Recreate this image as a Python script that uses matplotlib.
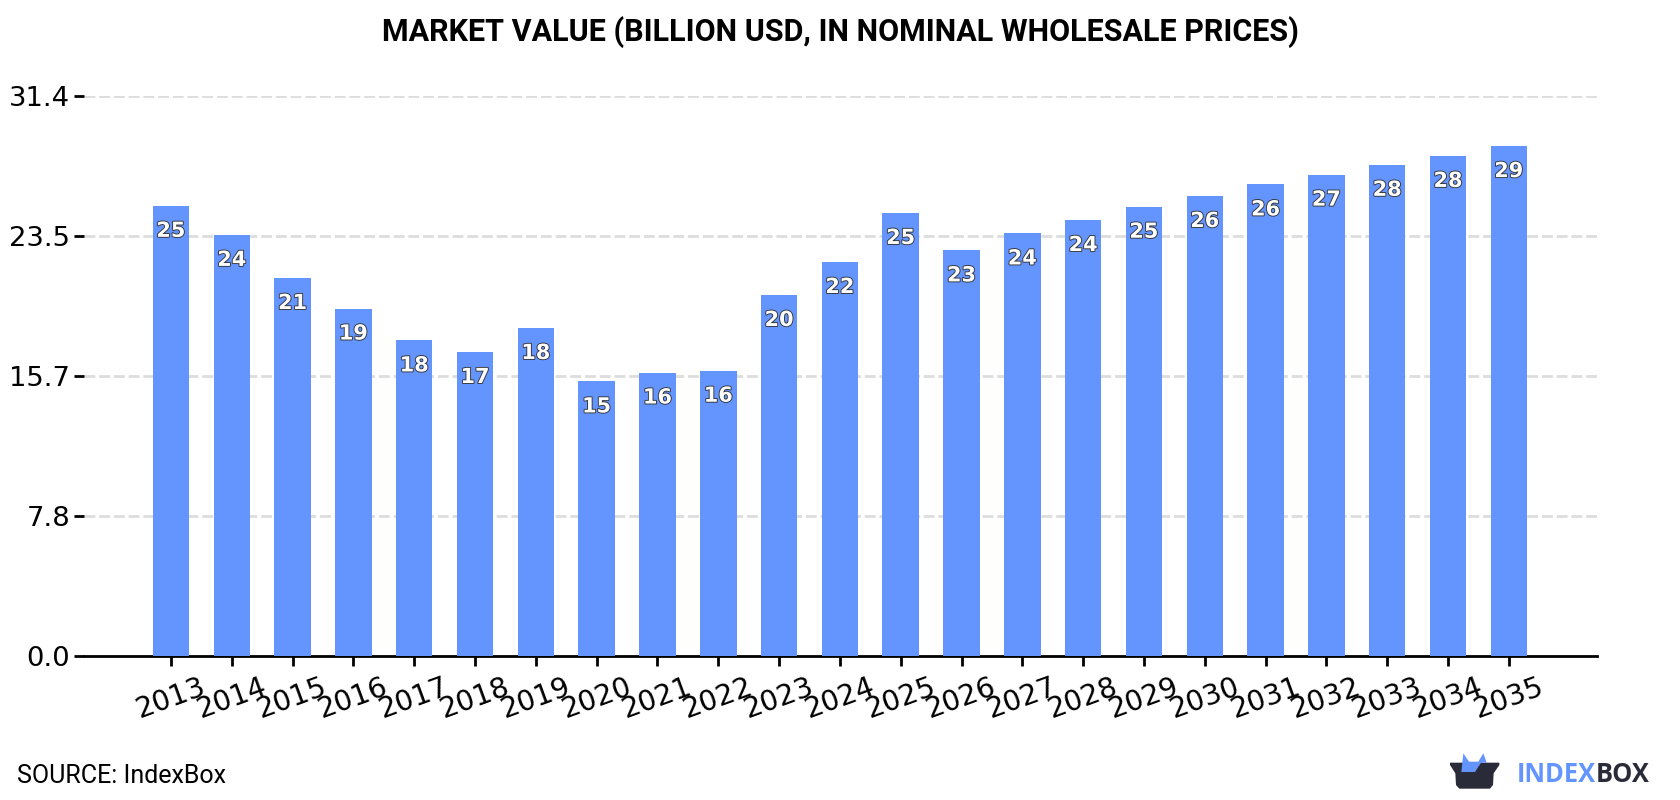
import matplotlib
matplotlib.use('Agg')
import matplotlib.pyplot as plt
import matplotlib.patheffects as pe
from matplotlib.patches import Polygon

W, H = 1680, 800

years = list(range(2013, 2036))
values = [25.25, 23.62, 21.2, 19.49, 17.7, 17.05, 18.4, 15.4, 15.9, 16.0, 20.25, 22.1,
          24.85, 22.75, 23.7, 24.45, 25.2, 25.8, 26.45, 27.0, 27.55, 28.05, 28.6]
y_ticks = [0.0, 7.85, 15.7, 23.55, 31.4]
y_tick_labels = ['0.0', '7.8', '15.7', '23.5', '31.4']

BLUE = '#6495ff'
DARK = '#2a2b38'


def px(x, y):
    # pixel position (from top left) to figure fraction
    return x / W, 1 - y / H


def logo_pt(x, y):
    # logo outline is drawn on a 3x grid anchored at (1400, 720)
    return px(1400 + x / 3, 720 + y / 3)


fig = plt.figure(figsize=(W / 100, H / 100), dpi=100)
ax = fig.add_axes([84 / W, 1 - 656 / H, (1597 - 84) / W, (656 - 96.2) / H])

x = range(len(years))
ax.bar(x, values, width=0.6, color=BLUE, zorder=3)
ax.set_xlim(-1.43, 23.45)
ax.set_ylim(0, 31.4)

ax.set_yticks(y_ticks)
ax.set_yticklabels(y_tick_labels, fontsize=19.7)
ax.set_xticks(list(x))
ax.set_xticklabels(years, fontsize=20.4, rotation=20, ha='center')
ax.tick_params(axis='y', length=7, width=2, pad=3, color='black')
ax.tick_params(axis='x', length=7, width=2, pad=5, color='black')
ax.grid(axis='y', color='#dddddd', linewidth=2, linestyle=(0, (3.9, 1.4)), zorder=0)

for side in ['top', 'right', 'left']:
    ax.spines[side].set_visible(False)
ax.spines['bottom'].set_linewidth(2)

# value labels sit just under the top of each bar
for i, v in enumerate(values):
    ax.annotate(str(round(v)), (i, v), xytext=(0, -18), textcoords='offset points',
                ha='center', va='center', fontsize=15, fontweight='bold', color='white',
                zorder=5, path_effects=[pe.withStroke(linewidth=1.3, foreground='#333333')])

tx, ty = px(840, 32)
fig.text(tx, ty, 'MARKET VALUE (BILLION USD, IN NOMINAL WHOLESALE PRICES)', family='Roboto',
         fontweight='bold', fontsize=22, ha='center', va='center', color='black')
sx, sy = px(17, 776)
fig.text(sx, sy, 'SOURCE: IndexBox', family='Roboto', fontsize=18, ha='left', va='center')

# logo: dark box with the blue crown in front, then the wordmark
box = [(150, 128), (298, 128), (298, 135), (281, 160), (279, 195), (270, 206),
       (178, 206), (168, 195), (166, 160), (150, 135)]
fig.add_artist(Polygon([logo_pt(*p) for p in box], closed=True, transform=fig.transFigure,
                       facecolor=DARK, edgecolor='none'))
crown = [(184, 156), (190, 100), (207, 125), (235, 125), (250, 100), (260, 128),
         (243, 128), (225, 156)]
fig.add_artist(Polygon([logo_pt(*p) for p in crown], closed=True, transform=fig.transFigure,
                       facecolor=BLUE, edgecolor='none'))
lx, ly = px(1517, 782)
t1 = fig.text(lx, ly, 'INDEX', family='Open Sans', fontweight='bold', fontsize=18.4, color=BLUE,
              ha='left', va='baseline')
fig.canvas.draw()
bb = t1.get_window_extent()
fig.text(bb.x1 / W, ly, 'BOX', family='Open Sans', fontweight='bold', fontsize=18.4, color=DARK,
         ha='left', va='baseline')

fig.savefig('out.png', dpi=100)
